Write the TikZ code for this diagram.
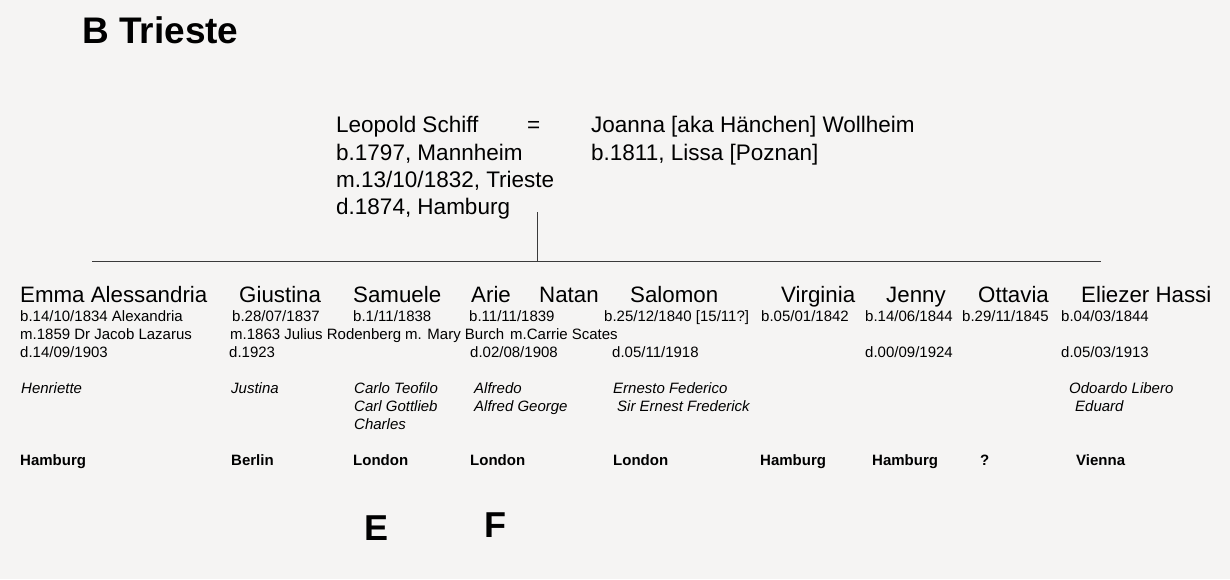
\documentclass[tikz,border=0pt]{standalone}
\usepackage{fontspec}
\setmainfont{Liberation Sans}
\definecolor{paper}{HTML}{F5F4F3}
\definecolor{ink}{HTML}{3A3A3A}
\tikzset{
	txt/.style={anchor=base west, inner sep=0pt, text=black},
	title/.style={txt, font=\fontsize{37}{40}\selectfont\bfseries},
	parent/.style={txt, font=\fontsize{22.5}{27}\selectfont},
	person/.style={txt, font=\fontsize{22.3}{27}\selectfont},
	info/.style={txt, font=\fontsize{15}{18}\selectfont},
	child/.style={txt, font=\fontsize{15}{18}\selectfont\itshape},
	place/.style={txt, font=\fontsize{15}{18}\selectfont\bfseries},
	branch/.style={txt, font=\fontsize{36}{40}\selectfont\bfseries},
	linkline/.style={line width=1pt, draw=ink}
}
\begin{document}
\begin{tikzpicture}[x=1pt,y=-1pt]
	
	% page
	\fill[paper] (0,0) rectangle (1230,579);
	\useasboundingbox (0,0) rectangle (1230,579);
	
	\node[title] (title) at (82,43) {B Trieste};
	
	% parents
	\node[parent] (leopold)  at (336,132) {Leopold Schiff};
	\node[parent] (leopoldB) at (336,160) {b.1797, Mannheim};
	\node[parent] (leopoldM) at (336,187) {m.13/10/1832, Trieste};
	\node[parent] (leopoldD) at (336,214) {d.1874, Hamburg};
	\node[parent] (marry)    at (527,132) {=};
	\node[parent] (joanna)   at (591,132) {Joanna [aka Hänchen] Wollheim};
	\node[parent] (joannaB)  at (591,160) {b.1811, Lissa [Poznan]};
	
	% descent line
	\coordinate (drop) at (537,212);
	\coordinate (barL) at (92,261);
	\coordinate (barR) at (1101,261);
	\draw[linkline] (drop) -- (drop |- barL);
	\draw[linkline] (barL) -- (barR);
	
	% children
	\node[person] (emma)      at (20,302)   {Emma Alessandria};
	\node[person] (giustina)  at (239,302)  {Giustina};
	\node[person] (samuele)   at (353,302)  {Samuele};
	\node[person] (arie)      at (471,302)  {Arie};
	\node[person] (natan)     at (539,302)  {Natan};
	\node[person] (salomon)   at (630,302)  {Salomon};
	\node[person] (virginia)  at (781,302)  {Virginia};
	\node[person] (jenny)     at (886,302)  {Jenny};
	\node[person] (ottavia)   at (978,302)  {Ottavia};
	\node[person] (eliezer)   at (1081,302) {Eliezer Hassi};
	
	% births
	\node[info] (emmaB)     at (20,321)   {b.14/10/1834 Alexandria};
	\node[info] (giustinaB) at (232,321)  {b.28/07/1837};
	\node[info] (samueleB)  at (353,321)  {b.1/11/1838};
	\node[info] (arieB)     at (469,321)  {b.11/11/1839};
	\node[info] (salomonB)  at (604,321)  {b.25/12/1840 [15/11?]};
	\node[info] (virginiaB) at (761,321)  {b.05/01/1842};
	\node[info] (jennyB)    at (865,321)  {b.14/06/1844};
	\node[info] (ottaviaB)  at (962,321)  {b.29/11/1845};
	\node[info] (eliezerB)  at (1061,321) {b.04/03/1844};
	
	% marriages
	\node[info] (emmaM)     at (20,339)  {m.1859 Dr Jacob Lazarus};
	\node[info] (giustinaM) at (230,339) {m.1863 Julius Rodenberg};
	\node[info] (samueleM)  at (405,339) {m. Mary Burch};
	\node[info] (arieM)     at (510,339) {m.Carrie Scates};
	
	% deaths
	\node[info] (emmaD)     at (20,357)   {d.14/09/1903};
	\node[info] (giustinaD) at (229,357)  {d.1923};
	\node[info] (arieD)     at (470,357)  {d.02/08/1908};
	\node[info] (salomonD)  at (612,357)  {d.05/11/1918};
	\node[info] (jennyD)    at (865,357)  {d.00/09/1924};
	\node[info] (eliezerD)  at (1061,357) {d.05/03/1913};
	
	% grandchildren
	\node[child] (henriette) at (21,393)   {Henriette};
	\node[child] (justina)   at (231,393)  {Justina};
	\node[child] (carlo)     at (354,393)  {Carlo Teofilo};
	\node[child] (carl)      at (354,411)  {Carl Gottlieb};
	\node[child] (charles)   at (354,429)  {Charles};
	\node[child] (alfredo)   at (474,393)  {Alfredo};
	\node[child] (alfred)    at (474,411)  {Alfred George};
	\node[child] (ernesto)   at (613,393)  {Ernesto Federico};
	\node[child] (ernest)    at (617,411)  {Sir Ernest Frederick};
	\node[child] (odoardo)   at (1069,393) {Odoardo Libero};
	\node[child] (eduard)    at (1075,411) {Eduard};
	
	% places
	\node[place] (emmaP)     at (20,465)   {Hamburg};
	\node[place] (giustinaP) at (231,465)  {Berlin};
	\node[place] (samueleP)  at (353,465)  {London};
	\node[place] (arieP)     at (470,465)  {London};
	\node[place] (salomonP)  at (613,465)  {London};
	\node[place] (virginiaP) at (760,465)  {Hamburg};
	\node[place] (jennyP)    at (872,465)  {Hamburg};
	\node[place] (ottaviaP)  at (980,465)  {?};
	\node[place] (eliezerP)  at (1076,465) {Vienna};
	
	% branches
	\node[branch] (branchE) at (364,540) {E};
	\node[branch] (branchF) at (484,537) {F};
	
\end{tikzpicture}
\end{document}
